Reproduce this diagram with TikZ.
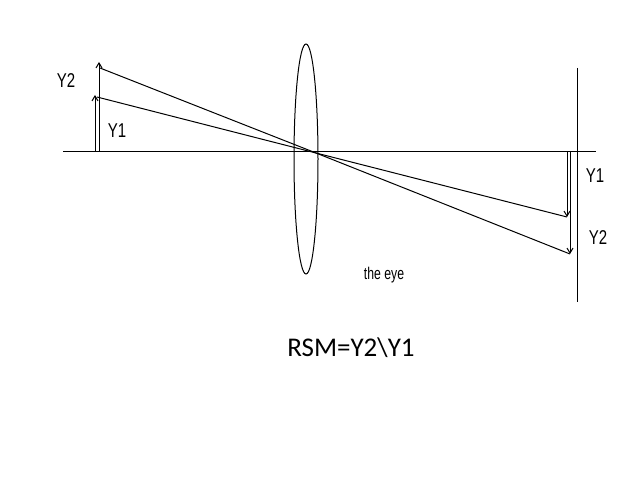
\documentclass[tikz,border=0pt]{standalone}
\usepackage{fontspec}
\setmainfont{Liberation Sans}
\newfontfamily\calib{Carlito}
\usetikzlibrary{arrows.meta}
\begin{document}
\begin{tikzpicture}[x=1pt,y=-1pt,
  ln/.style={line width=1pt,black},
  arr/.style={ln,-{Straight Barb[length=5pt,width=6pt]}},
  lbl/.style={font=\fontsize{20}{20}\selectfont,inner sep=0pt,xscale=0.75}]
\useasboundingbox (0,0) rectangle (638,478);
\coordinate (a0) at (63,152); \coordinate (a1) at (596,152);
\draw[ln] (a0) -- (a1);
\draw[ln] (306,159) ellipse [x radius=12, y radius=115];
\coordinate (c) at (316,153);
\coordinate (l1b) at (95,152); \coordinate (l1t) at (95,95);
\coordinate (l2b) at (99,152); \coordinate (l2t) at (99,62);
\draw[arr] (l1b) -- (l1t);
\draw[arr] (l2b) -- (l2t);
\coordinate (r1e) at (567,217); \coordinate (r2e) at (570,254);
\draw[ln] (97,97) -- (c) -- (r1e);
\draw[ln] (100,68) -- (c) -- (r2e);
\draw[arr] (567,152) -- (r1e);
\draw[arr] (570,152) -- (r2e);
\draw[ln] (577,68) -- (577,302);
\node[lbl] (ly2) at (66,81) {Y2};
\node[lbl] (ly1) at (117,131) {Y1};
\node[lbl] (ry1) at (595,176) {Y1};
\node[lbl] (ry2) at (598,238) {Y2};
\node[font=\fontsize{17}{17}\selectfont,xscale=0.72] (eye) at (384,275) {the eye};
\node[font=\calib\fontsize{27}{27}\selectfont] (rsm) at (351,348) {RSM=Y2\textbackslash Y1};
\end{tikzpicture}
\end{document}
